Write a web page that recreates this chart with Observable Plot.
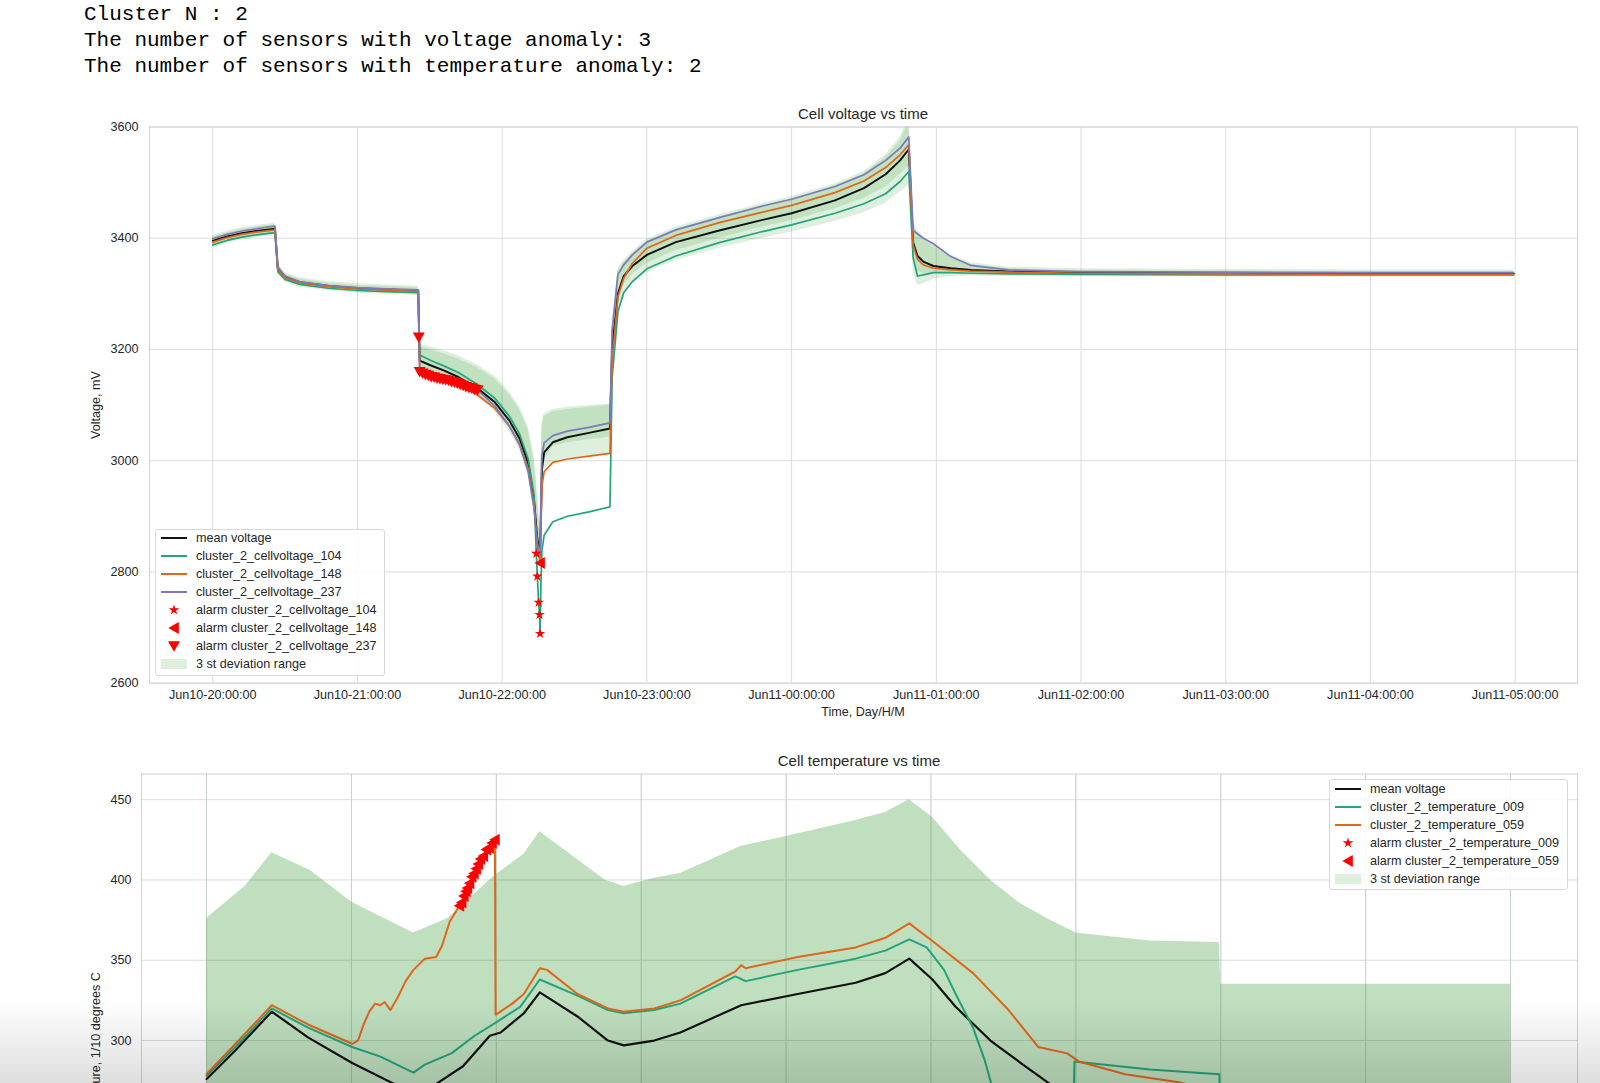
<!DOCTYPE html>
<html><head><meta charset="utf-8">
<script src="https://cdn.jsdelivr.net/npm/d3@7"></script>
<script src="https://cdn.jsdelivr.net/npm/@observablehq/plot@0.6"></script>
<style>
html,body{margin:0;padding:0;background:#fff;}
body{width:1600px;height:1083px;position:relative;overflow:hidden;font-family:"Liberation Sans",Arial,sans-serif;}
.hdr{position:absolute;left:84px;top:2px;font-family:"Courier New","Liberation Mono",monospace;font-size:21px;line-height:26px;color:#000;white-space:pre;}
.abs{position:absolute;}
.ttl{position:absolute;font-size:15px;color:#262626;transform:translate(-50%,-50%);white-space:nowrap;}
.lbl{position:absolute;font-size:12.6px;color:#262626;white-space:nowrap;transform:translate(-50%,-50%);}
.rot{transform:translate(-50%,-50%) rotate(-90deg);}
.leg{position:absolute;border:1px solid #d8d8d8;border-radius:3px;background:rgba(255,255,255,0.85);box-sizing:border-box;}
.row{position:absolute;height:18px;font-size:12.6px;color:#262626;white-space:nowrap;line-height:18px;}
#shade{position:absolute;left:0;top:1000px;width:1600px;height:83px;background:linear-gradient(rgba(0,0,0,0),rgba(0,0,0,0.13));pointer-events:none;}
</style></head>
<body>
<div class="hdr">Cluster N : 2
The number of sensors with voltage anomaly: 3
The number of sensors with temperature anomaly: 2</div>
<div id="volt" class="abs" style="left:0;top:96px;"></div>
<div id="temp" class="abs" style="left:0;top:740px;"></div>
<div class="ttl" style="left:863px;top:113px;">Cell voltage vs time</div>
<div class="lbl" style="left:863px;top:712px;">Time, Day/H/M</div>
<div class="lbl rot" style="left:96px;top:404.5px;">Voltage, mV</div>
<div class="ttl" style="left:859px;top:760px;">Cell temperature vs time</div>
<div class="lbl rot" style="left:96px;top:1054px;">Temperature, 1/10 degrees C</div>
<div id="legV" class="leg" style="left:155px;top:528.6px;width:230px;height:147px;"></div>
<div id="legT" class="leg" style="left:1328.6px;top:778.6px;width:239.4px;height:111.4px;"></div>
<div id="shade"></div>
<script>
// ---------------- DATA ----------------
// hours after Jun10 20:00
const tickHours = [0,1,2,3,4,5,6,7,8,9];
const voltTicks = [2600,2800,3000,3200,3400,3600];
const tempTicks = [300,350,400,450];

const vTime = [0,0.1,0.2,0.3,0.43,0.45,0.5,0.6,0.8,1.0,
 1.2,1.42,1.43,1.5,1.6,1.7,1.83,1.95,2.05,2.12,
 2.18,2.22,2.236,2.243,2.252,2.258,2.262,2.268,2.275,2.29,
 2.35,2.45,2.6,2.745,2.76,2.8,2.84,2.9,3.0,3.2,
 3.5,3.8,4.0,4.3,4.5,4.65,4.75,4.81,4.84,4.87,
 4.91,4.98,5.1,5.24,5.5,6.0,7.0,8.0,8.99];
const vMean = [3395,3403,3409,3413,3417,3345,3330,3321,3314,3310,
 3308,3306,3180,3172,3162,3150,3130,3105,3072,3040,
 2995,2930,2880,2860,2845,2835,2830,2900,2985,3015,
 3033,3042,3050,3058,3200,3300,3332,3350,3370,3393,
 3414,3433,3445,3468,3490,3515,3540,3560,3392,3368,
 3358,3350,3346,3343,3340,3338,3337,3336,3336];
const v104 = [3388,3396,3402,3406,3410,3340,3326,3317,3310,3306,
 3304,3302,3190,3181,3170,3158,3137,3112,3080,3048,
 3003,2940,2833,2792,2745,2723,2689,2780,2838,2866,
 2890,2900,2908,2917,3150,3268,3302,3322,3345,3368,
 3392,3412,3424,3445,3462,3480,3502,3520,3365,3332,
 3334,3338,3338,3337,3336,3335,3334,3334,3334];
const v148 = [3393,3401,3407,3411,3415,3343,3329,3320,3313,3309,
 3307,3305,3168,3160,3150,3138,3118,3094,3062,3030,
 2985,2920,2870,2850,2832,2822,2816,2880,2955,2980,
 2997,3003,3008,3013,3180,3295,3328,3355,3382,3405,
 3428,3447,3459,3482,3503,3527,3550,3568,3388,3362,
 3352,3346,3343,3341,3339,3337,3336,3335,3335];
const v237 = [3399,3407,3413,3417,3422,3348,3332,3322,3315,3311,
 3309,3307,3160,3152,3145,3138,3127,3098,3062,3028,
 2980,2915,2870,2852,2840,2833,2830,2930,3010,3032,
 3045,3053,3060,3068,3235,3335,3352,3370,3393,3415,
 3437,3458,3470,3493,3514,3540,3562,3582,3414,3408,
 3400,3390,3367,3351,3343,3340,3339,3338,3338];
const vBandLo = [3386,3394,3400,3404,3408,3336,3324,3315,3308,3304,
 3302,3300,3170,3162,3152,3140,3120,3094,3060,3028,
 2982,2918,2870,2852,2835,2826,2820,2880,2960,3000,
 3025,3032,3038,3042,3180,3285,3315,3335,3355,3378,
 3400,3420,3432,3453,3472,3492,3515,3530,3370,3340,
 3336,3338,3338,3337,3335,3334,3333,3333,3333];
const vBandHi = [3402,3410,3416,3420,3424,3352,3335,3326,3319,3315,
 3313,3311,3205,3200,3192,3183,3167,3147,3118,3092,
 3055,3000,2960,2930,2905,2880,2870,2990,3060,3080,
 3088,3092,3096,3100,3240,3340,3356,3372,3394,3416,
 3438,3459,3471,3494,3516,3545,3575,3610,3425,3410,
 3398,3385,3365,3352,3345,3342,3341,3340,3340];
const vBand2Lo = [3383,3391,3397,3401,3405,3333,3321,3312,3305,3301,
 3299,3297,3165,3157,3147,3135,3115,3088,3052,3020,
 2972,2905,2860,2845,2830,2820,2815,2870,2945,2985,
 2998,3004,3008,3012,3165,3270,3300,3318,3338,3360,
 3382,3400,3411,3430,3446,3463,3483,3495,3340,3315,
 3318,3326,3331,3332,3331,3331,3330,3330,3330];
const vBand2Hi = [3405,3413,3419,3423,3427,3355,3338,3329,3322,3318,
 3316,3314,3210,3205,3197,3188,3172,3152,3124,3098,
 3062,3010,2970,2940,2915,2890,2880,2995,3065,3085,
 3092,3096,3099,3102,3245,3345,3360,3376,3398,3420,
 3442,3463,3475,3498,3520,3550,3582,3620,3430,3415,
 3402,3390,3370,3356,3348,3345,3344,3343,3343];

const alarm104Hours = [2.236,2.243,2.252,2.258,2.262];
const alarm104Values = [2833,2792,2745,2723,2689];
const alarm148Hours = [2.262];
const alarm148Values = [2816];
const alarm237Hours = [1.424,1.43,1.45,1.47,1.49,1.51,1.53,1.55,1.57,1.59,1.61,1.63,1.65,1.67,1.69,1.71,1.73,1.75,1.77,1.79,1.81,1.83];
const alarm237Values = [3222,3160,3157,3155,3153,3151,3150,3148,3147,3146,3145,3144,3142,3141,3139,3137,3135,3133,3131,3130,3128,3127];

const tMeanHours = [0,0.2,0.45,0.7,1.005,1.295,1.45,1.585,1.77,1.955,2.03,2.19,2.3,2.56,2.77,2.88,3.09,3.27,3.69,4.08,4.48,4.685,4.85,5.01,5.17,5.41,5.62,5.82,6.2,6.6,7.0,7.5,8.0,9.0];
const tMeanValues = [276,294,318,302,286,273,268,273,284,303,305,317,330,315,300,297,300,305,322,329,336,342,351,338,321,300,286,273,255,240,232,228,226,224];
const t009Hours = [0,0.2,0.45,0.7,1.005,1.2,1.428,1.506,1.69,1.85,2.01,2.165,2.3,2.56,2.77,2.88,3.09,3.27,3.65,3.72,4.08,4.48,4.685,4.85,4.97,5.09,5.17,5.29,5.37,5.45,5.6,5.98,5.99,6.51,6.99,7.0,8.0,9.0];
const t009Values = [278,296,320,308,296,290,280,285,292,303,312,321,338,328,319,317,319,323,340,337,344,351,356,363,358,344,329,308,288,262,240,238,287,282,279,240,235,232];
const t059Hours = [0,0.2,0.45,0.7,1.005,1.045,1.084,1.123,1.163,1.2,1.229,1.269,1.32,1.374,1.428,1.506,1.585,1.625,1.678,1.745,1.76,1.775,1.79,1.80,1.815,1.83,1.845,1.86,1.875,1.89,1.91,1.93,1.95,1.97,1.99,1.995,2.11,2.19,2.3,2.35,2.56,2.77,2.88,3.09,3.27,3.65,3.69,3.72,4.08,4.48,4.685,4.85,5.01,5.29,5.535,5.74,5.94,6.02,6.34,6.71,7.0,7.5,8.0,9.0];
const t059Values = [279,298,322,310,298,300,310,318,323,322,324,319,327,337,344,351,352,359,374,384,386,390,393,395,398,402,404,407,410,413,415,419,420,423,425,316,323,329,345,344,329,320,318,320,325,343,347,345,352,358,364,373,362,342,319,296,292,287,279,274,268,262,258,255];
const alarm059Hours = [1.745,1.76,1.775,1.79,1.80,1.815,1.83,1.845,1.86,1.875,1.89,1.91,1.93,1.95,1.97,1.99];
const alarm059Values = [384,386,390,393,395,398,402,404,407,410,413,415,419,420,423,425];
const tBandHours = [0,0.266,0.45,0.714,1.005,1.428,1.665,1.98,2.19,2.30,2.48,2.75,2.88,3.09,3.27,3.69,4.0,4.48,4.685,4.85,5.01,5.21,5.41,5.62,5.82,6.0,6.51,6.99,7.0,8.0,9.0];
const tBandHi = [376,396,417,406,386,367,376,402,416,430,418,400,396,401,404,421,427,437,442,450,439,418,400,385,375,367,362,361,335,335,335];
const tBandLo = [150,160,170,165,158,150,152,160,165,170,165,160,158,160,162,170,172,176,178,182,176,170,160,150,142,135,133,132,160,160,160];

const voltLegend = ["mean voltage","cluster_2_cellvoltage_104","cluster_2_cellvoltage_148","cluster_2_cellvoltage_237","alarm cluster_2_cellvoltage_104","alarm cluster_2_cellvoltage_148","alarm cluster_2_cellvoltage_237","3 st deviation range"];
const tempLegend = ["mean voltage","cluster_2_temperature_009","cluster_2_temperature_059","alarm cluster_2_temperature_009","alarm cluster_2_temperature_059","3 st deviation range"];

// ---------------- STYLE ----------------
const C_MEAN = "#111111", C_GREEN = "#23a47a", C_ORANGE = "#e0661a", C_PURPLE = "#7d79bb", C_RED = "#ff0000";
const base = Date.UTC(2021, 5, 10, 20, 0, 0);
const toDate = h => new Date(base + h * 3600000);
const fmt = d3.utcFormat("%b%d-%H:%M:%S");
const numFmt = d3.format("d");
const xTicks = tickHours.map(toDate);

function rows(hours, cols) {
  for (const k in cols) if (cols[k].length !== hours.length) throw new Error("length mismatch " + k + " " + cols[k].length + " vs " + hours.length);
  return hours.map((h, i) => { const o = {date: toDate(h)}; for (const k in cols) o[k] = cols[k][i]; return o; });
}
const triLeft = {draw(ctx, size) { const r = Math.sqrt(size / Math.PI); ctx.moveTo(-0.95 * r, 0); ctx.lineTo(0.8 * r, -r); ctx.lineTo(0.8 * r, r); ctx.closePath(); }};
const triDown = {draw(ctx, size) { const r = Math.sqrt(size / Math.PI); ctx.moveTo(-r, -0.8 * r); ctx.lineTo(r, -0.8 * r); ctx.lineTo(0, 0.95 * r); ctx.closePath(); }};

const vRows = rows(vTime, {mean: vMean, s104: v104, s148: v148, s237: v237, lo: vBandLo, hi: vBandHi, lo2: vBand2Lo, hi2: vBand2Hi});
const a104 = rows(alarm104Hours, {v: alarm104Values});
const a148 = rows(alarm148Hours, {v: alarm148Values});
const a237 = rows(alarm237Hours, {v: alarm237Values});
const tm = rows(tMeanHours, {v: tMeanValues});
const t009 = rows(t009Hours, {v: t009Values});
const t059 = rows(t059Hours, {v: t059Values});
const a059 = rows(alarm059Hours, {v: alarm059Values});
const tb = rows(tBandHours, {lo: tBandLo, hi: tBandHi});

const plotStyle = {fontFamily: "'Liberation Sans', Arial, sans-serif", fontSize: "12.6px", color: "#262626", background: "transparent", overflow: "visible"};
const GRID = "#dcdcdc";

const voltPlot = Plot.plot({
  width: 1600, height: 628,
  marginLeft: 149, marginRight: 23, marginTop: 30.5, marginBottom: 41.4,
  style: plotStyle,
  x: {type: "utc", domain: [toDate(-0.437), toDate(9.431)], label: null},
  y: {domain: [2600, 3600], label: null},
  marks: [
    Plot.gridX(xTicks, {stroke: GRID, strokeOpacity: 1}),
    Plot.gridY(voltTicks, {stroke: GRID, strokeOpacity: 1}),
    Plot.areaY(vRows, {x: "date", y1: "lo2", y2: "hi2", fill: "green", fillOpacity: 0.13, clip: true}),
    Plot.areaY(vRows, {x: "date", y1: "lo", y2: "hi", fill: "green", fillOpacity: 0.13, clip: true}),
    Plot.line(vRows, {x: "date", y: "mean", stroke: C_MEAN, strokeWidth: 2, clip: true}),
    Plot.line(vRows, {x: "date", y: "s104", stroke: C_GREEN, strokeWidth: 1.7, clip: true}),
    Plot.line(vRows, {x: "date", y: "s148", stroke: C_ORANGE, strokeWidth: 1.7, clip: true}),
    Plot.line(vRows, {x: "date", y: "s237", stroke: C_PURPLE, strokeWidth: 1.7, clip: true}),
    Plot.dot(a104, {x: "date", y: "v", symbol: "star", r: 3.3, fill: C_RED, stroke: "none"}),
    Plot.dot(a148, {x: "date", y: "v", symbol: triLeft, r: 6, fill: C_RED, stroke: "none"}),
    Plot.dot(a237, {x: "date", y: "v", symbol: triDown, r: 6, fill: C_RED, stroke: "none"}),
    Plot.frame({stroke: "#d2d2d2"}),
    Plot.axisX(xTicks, {tickSize: 0, tickPadding: 7, tickFormat: fmt, label: null}),
    Plot.axisY(voltTicks, {tickSize: 0, tickPadding: 11, tickFormat: numFmt, label: null})
  ]
});
document.getElementById("volt").append(voltPlot);

const tempPlot = Plot.plot({
  width: 1600, height: 636,
  marginLeft: 141, marginRight: 23, marginTop: 33.5, marginBottom: 40.5,
  style: plotStyle,
  x: {type: "utc", domain: [toDate(-0.449), toDate(9.462)], label: null, axis: null},
  y: {domain: [116, 466], label: null},
  marks: [
    Plot.gridX(xTicks, {stroke: GRID, strokeOpacity: 1}),
    Plot.gridY(tempTicks, {stroke: GRID, strokeOpacity: 1}),
    Plot.areaY(tb, {x: "date", y1: "lo", y2: "hi", fill: "green", fillOpacity: 0.25, clip: true}),
    Plot.gridX(xTicks, {stroke: "#9fb89f", strokeOpacity: 0.35}),
    Plot.line(tm, {x: "date", y: "v", stroke: C_MEAN, strokeWidth: 2.2, clip: true}),
    Plot.line(t009, {x: "date", y: "v", stroke: C_GREEN, strokeWidth: 2, clip: true}),
    Plot.line(t059, {x: "date", y: "v", stroke: C_ORANGE, strokeWidth: 2, clip: true}),
    Plot.dot(a059, {x: "date", y: "v", symbol: triLeft, r: 6, fill: C_RED, stroke: "none"}),
    Plot.frame({stroke: "#d2d2d2"}),
    Plot.axisY(tempTicks, {tickSize: 0, tickPadding: 10, tickFormat: numFmt, label: null})
  ]
});
document.getElementById("temp").append(tempPlot);

// ---------------- LEGENDS ----------------
function handle(kind, color) {
  const ns = "http://www.w3.org/2000/svg";
  const svg = document.createElementNS(ns, "svg");
  svg.setAttribute("width", 28); svg.setAttribute("height", 18);
  svg.style.position = "absolute"; svg.style.left = "0px"; svg.style.top = "0px";
  let el;
  if (kind === "line") {
    el = document.createElementNS(ns, "line");
    el.setAttribute("x1", 1); el.setAttribute("x2", 27); el.setAttribute("y1", 9); el.setAttribute("y2", 9);
    el.setAttribute("stroke", color); el.setAttribute("stroke-width", 2);
  } else if (kind === "patch") {
    el = document.createElementNS(ns, "rect");
    el.setAttribute("x", 1); el.setAttribute("y", 4); el.setAttribute("width", 26); el.setAttribute("height", 10);
    el.setAttribute("fill", "green"); el.setAttribute("fill-opacity", 0.13);
  } else {
    el = document.createElementNS(ns, "path");
    const sym = kind === "star" ? d3.symbolStar : kind === "left" ? triLeft : triDown;
    const r = kind === "star" ? 3.3 : 6;
    el.setAttribute("d", d3.symbol(sym, r * r * Math.PI)());
    el.setAttribute("transform", "translate(14,9)");
    el.setAttribute("fill", color);
  }
  svg.append(el);
  return svg;
}
function buildLegend(id, labels, kinds, colors, first, step, textX) {
  const box = document.getElementById(id);
  labels.forEach((lab, i) => {
    const row = document.createElement("div");
    row.className = "row";
    row.style.left = "4px"; row.style.width = "100%";
    row.style.top = (first + i * step - 9 - 1) + "px";
    row.append(handle(kinds[i], colors[i]));
    const t = document.createElement("span");
    t.textContent = lab; t.style.position = "absolute"; t.style.left = textX + "px";
    row.append(t);
    box.append(row);
  });
}
buildLegend("legV", voltLegend,
  ["line","line","line","line","star","left","down","patch"],
  [C_MEAN, C_GREEN, C_ORANGE, C_PURPLE, C_RED, C_RED, C_RED, "green"], 9.7, 17.9, 36);
buildLegend("legT", tempLegend,
  ["line","line","line","star","left","patch"],
  [C_MEAN, C_GREEN, C_ORANGE, C_RED, C_RED, "green"], 10.2, 17.96, 36.4);
</script>
</body></html>
